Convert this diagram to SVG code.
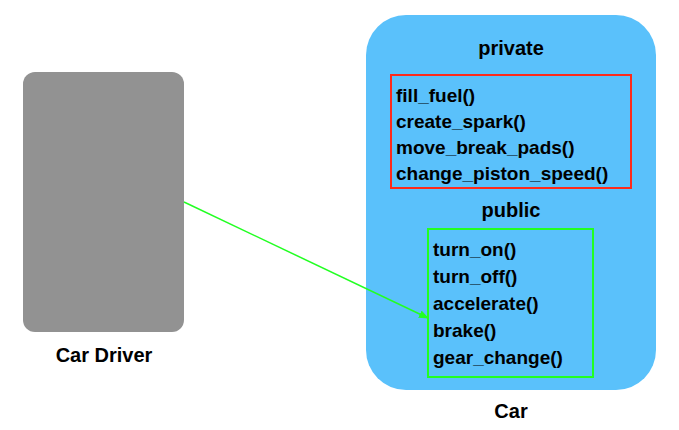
<svg xmlns="http://www.w3.org/2000/svg" width="679" height="430" viewBox="0 0 679 430">
<style>
text{font-family:"Liberation Sans",Arial,sans-serif;font-weight:bold;font-size:19px;fill:#000}
.c{text-anchor:middle;font-size:20px}
</style>
<defs><marker id="ah" markerWidth="10" markerHeight="8" refX="9" refY="4" orient="auto" markerUnits="userSpaceOnUse"><path d="M0,0 L10,4 L0,8 z" fill="#22ff22"/></marker></defs>
<rect width="679" height="430" fill="#fff"/>
<g id="driver"><rect x="23" y="72" width="161" height="260" rx="12" fill="#929292"/><text class="c" x="104" y="362">Car Driver</text></g>
<g id="car"><rect x="366" y="15" width="290" height="375" rx="40" fill="#5AC1FB"/><text class="c" x="511" y="55">private</text><text class="c" x="511" y="217">public</text><text class="c" x="511" y="418">Car</text></g>
<g id="private"><rect x="391" y="75" width="240" height="113" fill="none" stroke="#ff2a1a" stroke-width="2"/>
<text x="396" y="102">fill_fuel()</text><text x="396" y="128">create_spark()</text><text x="396" y="154">move_break_pads()</text><text x="396" y="180">change_piston_speed()</text></g>
<g id="public"><rect x="428" y="229" width="165" height="148" fill="none" stroke="#22ff22" stroke-width="2"/>
<text x="433" y="256">turn_on()</text><text x="433" y="283">turn_off()</text><text x="433" y="310">accelerate()</text><text x="433" y="337">brake()</text><text x="433" y="364">gear_change()</text></g>
<g id="connectors"><line x1="184" y1="202" x2="428" y2="318" stroke="#22ff22" stroke-width="1.5" marker-end="url(#ah)"/></g>
</svg>
